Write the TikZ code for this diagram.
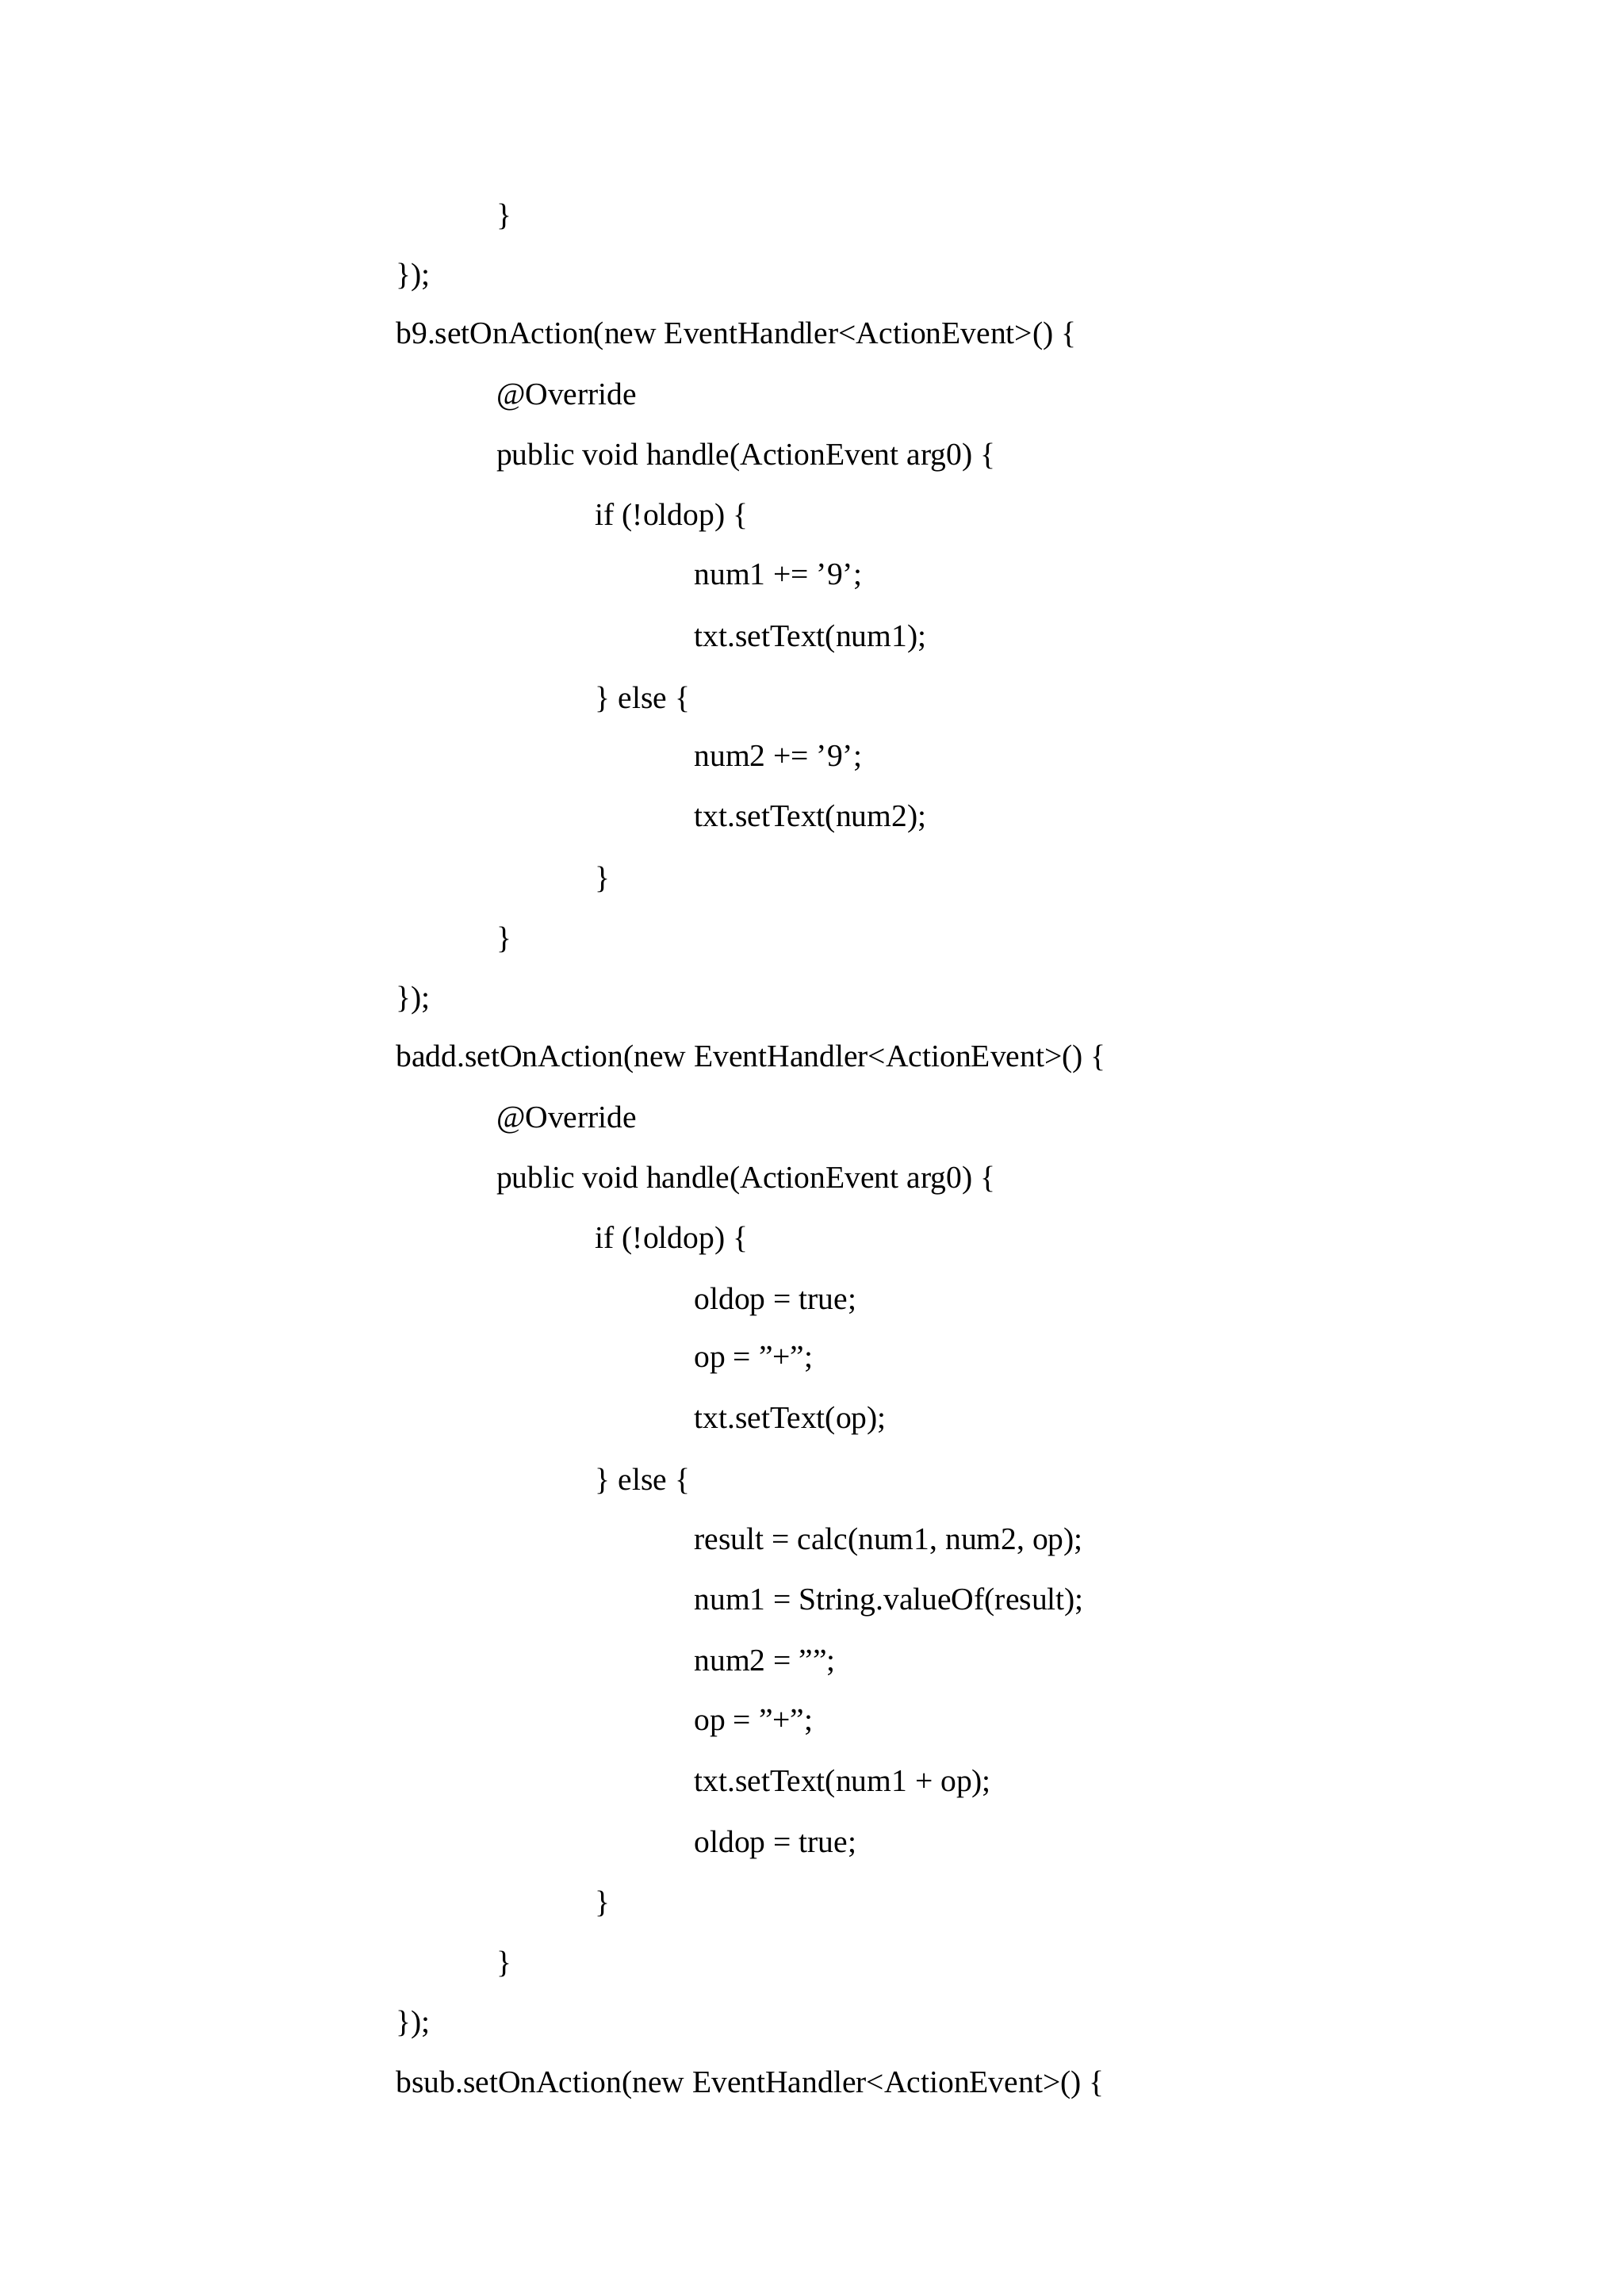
\documentclass[tikz,border=0pt]{standalone}
\usepackage{fontspec}
\setmainfont{Liberation Serif}
\newcommand{\sq}{\symbol{39}}
\newcommand{\dq}{\symbol{34}}
\begin{document}
\begin{tikzpicture}[x=0.541pt,y=-0.541pt,
  code/.style={anchor=west,inner sep=0pt,font=\fontsize{11.5}{13}\selectfont}]
\useasboundingbox (0,0) rectangle (1100,1556);
\node[code] (l1) at (336,147) {\}};
\node[code] (l2) at (268,188) {\});};
\node[code] (l3) at (268,228) {b9.setOnAction(new EventHandler<ActionEvent>() \{};
\node[code] (l4) at (336,269) {@Override};
\node[code] (l5) at (336,310) {public void handle(ActionEvent arg0) \{};
\node[code] (l6) at (403,351) {if (!oldop) \{};
\node[code] (l7) at (470,391) {num1 += \sq9\sq;};
\node[code] (l8) at (470,433) {txt.setText(num1);};
\node[code] (l9) at (403,474) {\} else \{};
\node[code] (l10) at (470,514) {num2 += \sq9\sq;};
\node[code] (l11) at (470,555) {txt.setText(num2);};
\node[code] (l12) at (403,596) {\}};
\node[code] (l13) at (336,637) {\}};
\node[code] (l14) at (268,678) {\});};
\node[code] (l15) at (268,718) {badd.setOnAction(new EventHandler<ActionEvent>() \{};
\node[code] (l16) at (336,759) {@Override};
\node[code] (l17) at (336,800) {public void handle(ActionEvent arg0) \{};
\node[code] (l18) at (403,841) {if (!oldop) \{};
\node[code] (l19) at (470,882) {oldop = true;};
\node[code] (l20) at (470,922) {op = \dq+\dq;};
\node[code] (l21) at (470,963) {txt.setText(op);};
\node[code] (l22) at (403,1004) {\} else \{};
\node[code] (l23) at (470,1045) {result = calc(num1, num2, op);};
\node[code] (l24) at (470,1086) {num1 = String.valueOf(result);};
\node[code] (l25) at (470,1127) {num2 = \dq\dq;};
\node[code] (l26) at (470,1168) {op = \dq+\dq;};
\node[code] (l27) at (470,1209) {txt.setText(num1 + op);};
\node[code] (l28) at (470,1250) {oldop = true;};
\node[code] (l29) at (403,1290) {\}};
\node[code] (l30) at (336,1331) {\}};
\node[code] (l31) at (268,1372) {\});};
\node[code] (l32) at (268,1413) {bsub.setOnAction(new EventHandler<ActionEvent>() \{};
\end{tikzpicture}
\end{document}
